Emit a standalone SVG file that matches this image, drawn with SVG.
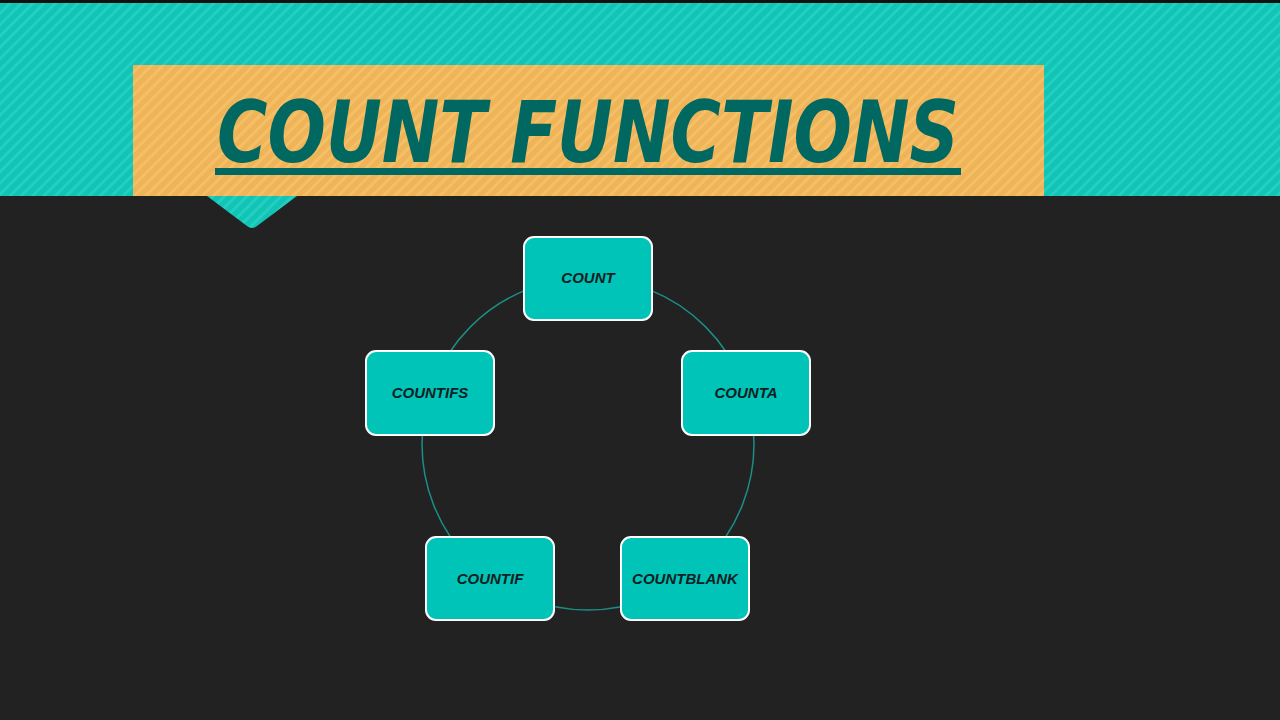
<svg xmlns="http://www.w3.org/2000/svg" width="1280" height="720" viewBox="0 0 1280 720">
<defs>
<pattern id="st" width="8" height="8" patternUnits="userSpaceOnUse" patternTransform="rotate(45)">
<rect width="8" height="8" fill="#11c4b6"/><rect width="3" height="8" fill="#22cfc1"/>
</pattern>
<pattern id="so" width="8" height="8" patternUnits="userSpaceOnUse" patternTransform="rotate(45)">
<rect width="8" height="8" fill="#efb458"/><rect width="3" height="8" fill="#f4bf66"/>
</pattern>
<style>
.n rect{fill:#00c4b8;stroke:#fff;stroke-width:2}
.n text{font-family:"Liberation Sans",sans-serif;font-style:italic;font-weight:bold;font-size:15px;fill:#10201f;text-anchor:middle}
</style>
</defs>
<rect width="1280" height="720" fill="#222222"/>
<rect y="3" width="1280" height="193" fill="url(#st)"/>
<rect width="1280" height="3" fill="#111"/>
<path d="M207 196 L297 196 L257 226 Q252 230 247 226 Z" fill="url(#st)"/>
<rect x="133" y="65" width="911" height="131" fill="url(#so)"/>
<text x="217" y="162" font-family="DejaVu Sans,sans-serif" font-weight="bold" font-style="italic" font-size="86" fill="#006860" textLength="742" lengthAdjust="spacingAndGlyphs">COUNT FUNCTIONS</text>
<rect x="215" y="168" width="746" height="7" fill="#006860"/>
<g id="connectors"><circle cx="588" cy="444" r="166" fill="none" stroke="#1a8f87" stroke-width="1.5"/></g>
<g id="count" class="n"><rect x="524" y="237" width="128" height="83" rx="10"/><text x="588" y="283">COUNT</text></g>
<g id="counta" class="n"><rect x="682" y="351" width="128" height="84" rx="10"/><text x="746" y="398">COUNTA</text></g>
<g id="countblank" class="n"><rect x="621" y="537" width="128" height="83" rx="10"/><text x="685" y="584">COUNTBLANK</text></g>
<g id="countif" class="n"><rect x="426" y="537" width="128" height="83" rx="10"/><text x="490" y="584">COUNTIF</text></g>
<g id="countifs" class="n"><rect x="366" y="351" width="128" height="84" rx="10"/><text x="430" y="398">COUNTIFS</text></g>
</svg>
